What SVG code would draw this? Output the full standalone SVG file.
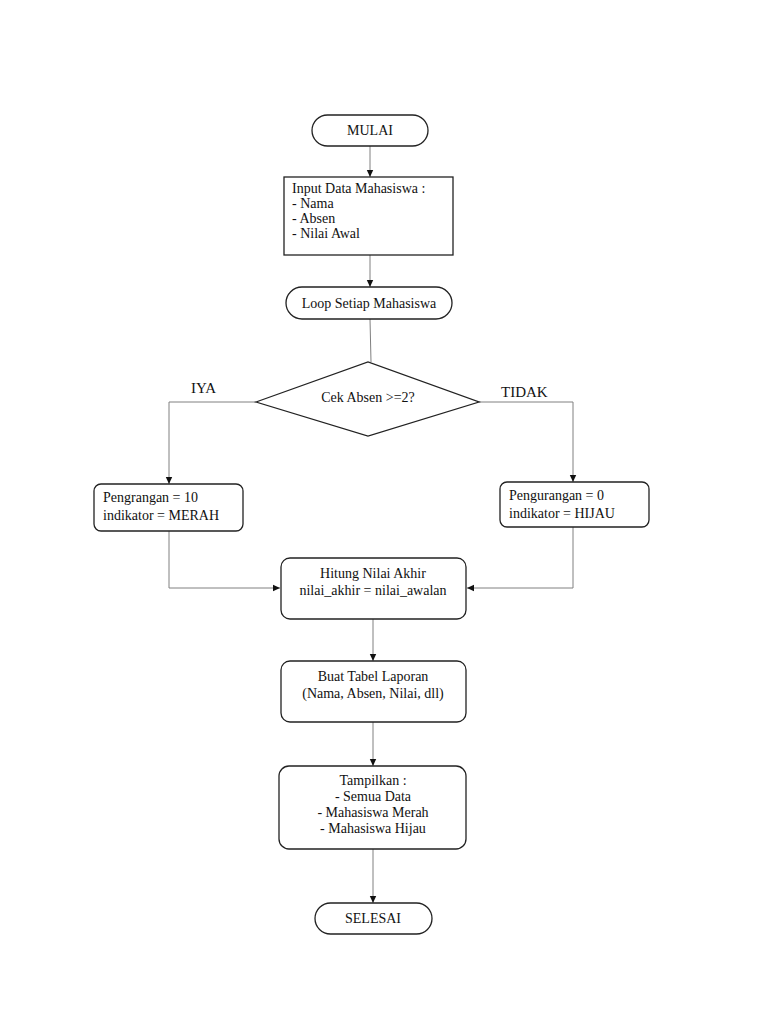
<svg xmlns="http://www.w3.org/2000/svg" width="768" height="1024" viewBox="0 0 768 1024">
<style>
.s{fill:#fff;stroke:#222;stroke-width:1.3}
.t{font-family:"Liberation Serif","DejaVu Serif",serif;font-size:14px;fill:#111}
.c{fill:none;stroke:#808080;stroke-width:1}
.m{text-anchor:middle}
</style>
<defs>
<marker id="a" markerWidth="8" markerHeight="8" refX="7" refY="4" orient="auto" markerUnits="userSpaceOnUse">
<path d="M0,0.8 L7,4 L0,7.2 Z" fill="#111"/>
</marker>
</defs>
<rect width="768" height="1024" fill="#fff"/>
<g id="connectors">
<line class="c" x1="370" y1="146" x2="370" y2="177" marker-end="url(#a)"/>
<line class="c" x1="370" y1="255" x2="370" y2="287" marker-end="url(#a)"/>
<line class="c" x1="370" y1="319" x2="371" y2="362"/>
<polyline class="c" points="256,402 169,402 169,484" marker-end="url(#a)"/>
<polyline class="c" points="479,402 573,402 573,482" marker-end="url(#a)"/>
<polyline class="c" points="169,531 169,588 280,588" marker-end="url(#a)"/>
<polyline class="c" points="573,527 573,588 467,588" marker-end="url(#a)"/>
<line class="c" x1="373" y1="619" x2="373" y2="661" marker-end="url(#a)"/>
<line class="c" x1="373" y1="722" x2="373" y2="766" marker-end="url(#a)"/>
<line class="c" x1="373" y1="849" x2="373" y2="903" marker-end="url(#a)"/>
</g>
<g id="mulai">
<rect class="s" x="312" y="115" width="116" height="31" rx="15.5"/>
<text class="t m" x="370" y="135">MULAI</text>
</g>
<g id="input">
<rect class="s" x="284" y="177" width="169" height="78"/>
<text class="t" x="292" y="193">Input Data Mahasiswa :</text>
<text class="t" x="292" y="208">- Nama</text>
<text class="t" x="292" y="223">- Absen</text>
<text class="t" x="292" y="238">- Nilai Awal</text>
</g>
<g id="loop">
<rect class="s" x="286" y="287" width="166" height="32" rx="16"/>
<text class="t m" x="369" y="308">Loop Setiap Mahasiswa</text>
</g>
<g id="cek">
<polygon class="s" points="256,402 368,362 479,402 368,436"/>
<text class="t m" x="368" y="402">Cek Absen &gt;=2?</text>
</g>
<text class="t" x="191" y="393" style="font-size:15px">IYA</text>
<text class="t" x="501" y="397" style="font-size:15px">TIDAK</text>
<g id="merah">
<rect class="s" x="94" y="484" width="149" height="47" rx="7"/>
<text class="t" x="103" y="502">Pengrangan = 10</text>
<text class="t" x="103" y="520">indikator = MERAH</text>
</g>
<g id="hijau">
<rect class="s" x="500" y="482" width="149" height="45" rx="7"/>
<text class="t" x="509" y="500">Pengurangan = 0</text>
<text class="t" x="509" y="518">indikator = HIJAU</text>
</g>
<g id="hitung">
<rect class="s" x="281" y="558" width="185" height="61" rx="9"/>
<text class="t m" x="373" y="578">Hitung Nilai Akhir</text>
<text class="t m" x="373" y="595">nilai_akhir = nilai_awalan</text>
</g>
<g id="tabel">
<rect class="s" x="281" y="661" width="185" height="61" rx="9"/>
<text class="t m" x="373" y="681">Buat Tabel Laporan</text>
<text class="t m" x="373" y="698">(Nama, Absen, Nilai, dll)</text>
</g>
<g id="tampil">
<rect class="s" x="279" y="766" width="187" height="83" rx="10"/>
<text class="t m" x="373" y="785">Tampilkan :</text>
<text class="t m" x="373" y="801">- Semua Data</text>
<text class="t m" x="373" y="817">- Mahasiswa Merah</text>
<text class="t m" x="373" y="833">- Mahasiswa Hijau</text>
</g>
<g id="selesai">
<rect class="s" x="315" y="903" width="117" height="31" rx="15.5"/>
<text class="t m" x="373" y="923">SELESAI</text>
</g>
</svg>
